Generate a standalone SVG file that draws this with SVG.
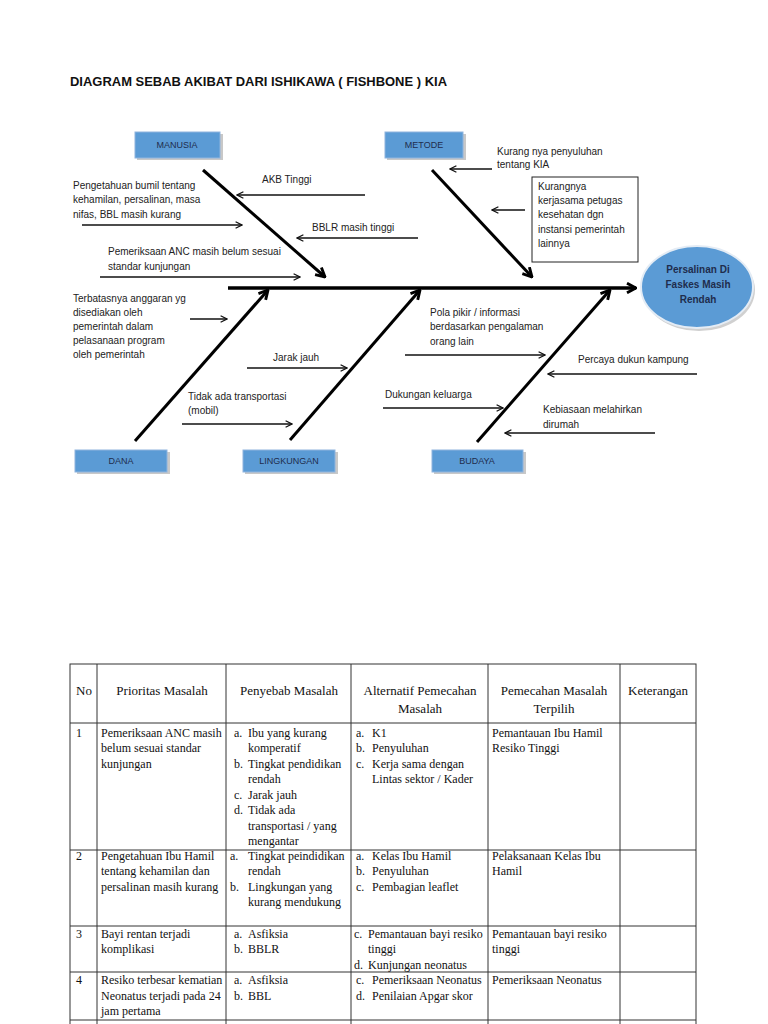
<svg xmlns="http://www.w3.org/2000/svg" width="768" height="1024" viewBox="0 0 768 1024">
<style>
.t{font-family:"Liberation Sans",Arial,sans-serif;font-size:10px;fill:#222}
.bx{fill:#5B9BD5;stroke:#8FB4DE;stroke-width:1}
.sh{fill:#C8C8C8}
.bl{font-family:"Liberation Sans",Arial,sans-serif;font-size:9px;fill:#1F2D4D;text-anchor:middle}
.thin{stroke:#111;stroke-width:1.3;fill:none;marker-end:url(#ah)}
.bone{stroke:#000;stroke-width:3;fill:none;marker-end:url(#bh)}
.tb{stroke:#333;stroke-width:1;fill:none}
.h{font-family:"Liberation Serif","Times New Roman",serif;font-size:13px;fill:#111}
.c{font-family:"Liberation Serif","Times New Roman",serif;font-size:12px;fill:#111}
.m{text-anchor:middle}
</style>
<defs>
<marker id="ah" viewBox="0 0 10 10" refX="9" refY="5" markerWidth="8" markerHeight="8" markerUnits="userSpaceOnUse" orient="auto">
<path d="M1,1 L9,5 L1,9" fill="none" stroke="#111" stroke-width="1.6"/>
</marker>
<marker id="bh" viewBox="0 0 10 10" refX="9" refY="5" markerWidth="12" markerHeight="12" markerUnits="userSpaceOnUse" orient="auto">
<path d="M1.5,1 L9,5 L1.5,9" fill="none" stroke="#000" stroke-width="2.4"/>
</marker>
</defs>
<rect width="768" height="1024" fill="#fff"/>

<g id="title">
<text x="70" y="86" font-family="'Liberation Sans',Arial,sans-serif" font-size="13" font-weight="bold" fill="#111" textLength="377" lengthAdjust="spacingAndGlyphs">DIAGRAM SEBAB AKIBAT DARI ISHIKAWA ( FISHBONE ) KIA</text>
</g>

<g id="connectors">
<line x1="228" y1="288" x2="636" y2="288" stroke="#000" stroke-width="3.5" marker-end="url(#bh)"/>
<line class="bone" x1="203" y1="170" x2="325" y2="277"/>
<line class="bone" x1="432" y1="170" x2="532" y2="277"/>
<line class="bone" x1="135" y1="441" x2="268" y2="290"/>
<line class="bone" x1="290" y1="440" x2="420" y2="290"/>
<line class="bone" x1="477" y1="442" x2="610" y2="290"/>
<line class="thin" x1="365" y1="195" x2="237" y2="195"/>
<line class="thin" x1="82" y1="225" x2="242" y2="225"/>
<line class="thin" x1="418" y1="238" x2="297" y2="238"/>
<line class="thin" x1="100" y1="277" x2="300" y2="277"/>
<line class="thin" x1="492" y1="169" x2="450" y2="169"/>
<line class="thin" x1="525" y1="210" x2="492" y2="210"/>
<line class="thin" x1="190" y1="319" x2="227" y2="319"/>
<line class="thin" x1="247" y1="368" x2="347" y2="368"/>
<line class="thin" x1="182" y1="424" x2="292" y2="424"/>
<line class="thin" x1="405" y1="355" x2="545" y2="355"/>
<line class="thin" x1="697" y1="374" x2="548" y2="374"/>
<line class="thin" x1="383" y1="408" x2="503" y2="408"/>
<line class="thin" x1="655" y1="433" x2="505" y2="433"/>
</g>

<g id="manusia">
<rect class="sh" x="137" y="134" width="86" height="26"/>
<rect class="bx" x="135" y="132" width="85" height="26"/>
<text class="bl" x="177" y="148">MANUSIA</text>
</g>
<g id="metode">
<rect class="sh" x="387" y="134" width="79" height="26"/>
<rect class="bx" x="385" y="132" width="78" height="26"/>
<text class="bl" x="424" y="148">METODE</text>
</g>
<g id="dana">
<rect class="sh" x="77" y="452" width="93" height="22"/>
<rect class="bx" x="75" y="450" width="92" height="22"/>
<text class="bl" x="121" y="464">DANA</text>
</g>
<g id="lingkungan">
<rect class="sh" x="245" y="452" width="93" height="22"/>
<rect class="bx" x="243" y="450" width="92" height="22"/>
<text class="bl" x="289" y="464">LINGKUNGAN</text>
</g>
<g id="budaya">
<rect class="sh" x="434" y="452" width="92" height="22"/>
<rect class="bx" x="432" y="450" width="91" height="22"/>
<text class="bl" x="477" y="464">BUDAYA</text>
</g>

<g id="effect">
<ellipse cx="699" cy="290" rx="56" ry="41" fill="#D0D0D0"/>
<ellipse cx="697" cy="287" rx="56" ry="41" fill="#5B9BD5" stroke="#E4ECF5" stroke-width="2"/>
<g font-family="'Liberation Sans',Arial,sans-serif" font-size="10" font-weight="bold" fill="#1F2D4D" text-anchor="middle">
<text x="698" y="273">Persalinan Di</text>
<text x="698" y="288">Faskes Masih</text>
<text x="698" y="303">Rendah</text>
</g>
</g>

<g id="cause-akb"><text class="t" x="262" y="183">AKB Tinggi</text></g>
<g id="cause-pengetahuan">
<text class="t" x="73" y="189">Pengetahuan bumil tentang</text>
<text class="t" x="73" y="203">kehamilan, persalinan, masa</text>
<text class="t" x="73" y="218">nifas, BBL masih kurang</text>
</g>
<g id="cause-bblr"><text class="t" x="312" y="231">BBLR masih tinggi</text></g>
<g id="cause-anc">
<text class="t" x="108" y="255">Pemeriksaan ANC masih belum sesuai</text>
<text class="t" x="108" y="270">standar kunjungan</text>
</g>
<g id="cause-penyuluhan">
<text class="t" x="497" y="155">Kurang nya penyuluhan</text>
<text class="t" x="497" y="168">tentang KIA</text>
</g>
<g id="cause-kerjasama">
<rect x="532" y="177" width="106" height="85" fill="#fff" stroke="#222" stroke-width="1"/>
<text class="t" x="538" y="190">Kurangnya</text>
<text class="t" x="538" y="204">kerjasama petugas</text>
<text class="t" x="538" y="218">kesehatan dgn</text>
<text class="t" x="538" y="233">instansi pemerintah</text>
<text class="t" x="538" y="247">lainnya</text>
</g>
<g id="cause-anggaran">
<text class="t" x="73" y="302">Terbatasnya anggaran yg</text>
<text class="t" x="73" y="316">disediakan oleh</text>
<text class="t" x="73" y="330">pemerintah dalam</text>
<text class="t" x="73" y="344">pelasanaan program</text>
<text class="t" x="73" y="358">oleh pemerintah</text>
</g>
<g id="cause-jarak"><text class="t" x="273" y="361">Jarak jauh</text></g>
<g id="cause-transport">
<text class="t" x="188" y="400">Tidak ada transportasi</text>
<text class="t" x="188" y="414">(mobil)</text>
</g>
<g id="cause-polapikir">
<text class="t" x="430" y="316">Pola pikir / informasi</text>
<text class="t" x="430" y="330">berdasarkan pengalaman</text>
<text class="t" x="430" y="345">orang lain</text>
</g>
<g id="cause-dukun"><text class="t" x="578" y="363">Percaya dukun kampung</text></g>
<g id="cause-keluarga"><text class="t" x="385" y="398">Dukungan keluarga</text></g>
<g id="cause-kebiasaan">
<text class="t" x="543" y="413">Kebiasaan melahirkan</text>
<text class="t" x="543" y="428">dirumah</text>
</g>

<g id="table">
<rect class="tb" x="70" y="664" width="626" height="380"/>
<line class="tb" x1="97" y1="664" x2="97" y2="1024"/>
<line class="tb" x1="226" y1="664" x2="226" y2="1024"/>
<line class="tb" x1="351" y1="664" x2="351" y2="1024"/>
<line class="tb" x1="488" y1="664" x2="488" y2="1024"/>
<line class="tb" x1="620" y1="664" x2="620" y2="1024"/>
<line class="tb" x1="70" y1="723" x2="696" y2="723"/>
<line class="tb" x1="70" y1="850" x2="696" y2="850"/>
<line class="tb" x1="70" y1="926" x2="696" y2="926"/>
<line class="tb" x1="70" y1="972" x2="696" y2="972"/>
<line class="tb" x1="70" y1="1020" x2="696" y2="1020"/>

<text class="h" x="76" y="695">No</text>
<text class="h m" x="162" y="695">Prioritas Masalah</text>
<text class="h m" x="289" y="695">Penyebab Masalah</text>
<text class="h m" x="420" y="695">Alternatif Pemecahan</text>
<text class="h m" x="420" y="713">Masalah</text>
<text class="h m" x="554" y="695">Pemecahan Masalah</text>
<text class="h m" x="554" y="713">Terpilih</text>
<text class="h m" x="658" y="695">Keterangan</text>

<text class="c" x="76" y="737">1</text>
<text class="c" x="101" y="737">Pemeriksaan ANC masih</text>
<text class="c" x="101" y="752">belum sesuai standar</text>
<text class="c" x="101" y="768">kunjungan</text>
<text class="c" x="234" y="737">a.</text><text class="c" x="248" y="737">Ibu yang kurang</text>
<text class="c" x="248" y="752">komperatif</text>
<text class="c" x="234" y="768">b.</text><text class="c" x="248" y="768">Tingkat pendidikan</text>
<text class="c" x="248" y="783">rendah</text>
<text class="c" x="234" y="799">c.</text><text class="c" x="248" y="799">Jarak jauh</text>
<text class="c" x="234" y="814">d.</text><text class="c" x="248" y="814">Tidak ada</text>
<text class="c" x="248" y="830">transportasi / yang</text>
<text class="c" x="248" y="845">mengantar</text>
<text class="c" x="356" y="737">a.</text><text class="c" x="372" y="737">K1</text>
<text class="c" x="356" y="752">b.</text><text class="c" x="372" y="752">Penyuluhan</text>
<text class="c" x="356" y="768">c.</text><text class="c" x="372" y="768">Kerja sama dengan</text>
<text class="c" x="372" y="783">Lintas sektor / Kader</text>
<text class="c" x="492" y="737">Pemantauan Ibu Hamil</text>
<text class="c" x="492" y="752">Resiko Tinggi</text>

<text class="c" x="76" y="860">2</text>
<text class="c" x="101" y="860">Pengetahuan Ibu Hamil</text>
<text class="c" x="101" y="875">tentang kehamilan dan</text>
<text class="c" x="101" y="891">persalinan masih kurang</text>
<text class="c" x="230" y="860">a.</text><text class="c" x="248" y="860">Tingkat peindidikan</text>
<text class="c" x="248" y="875">rendah</text>
<text class="c" x="230" y="891">b.</text><text class="c" x="248" y="891">Lingkungan yang</text>
<text class="c" x="248" y="906">kurang mendukung</text>
<text class="c" x="356" y="860">a.</text><text class="c" x="372" y="860">Kelas Ibu Hamil</text>
<text class="c" x="356" y="875">b.</text><text class="c" x="372" y="875">Penyuluhan</text>
<text class="c" x="356" y="891">c.</text><text class="c" x="372" y="891">Pembagian leaflet</text>
<text class="c" x="492" y="860">Pelaksanaan Kelas Ibu</text>
<text class="c" x="492" y="875">Hamil</text>

<text class="c" x="76" y="938">3</text>
<text class="c" x="101" y="938">Bayi rentan terjadi</text>
<text class="c" x="101" y="953">komplikasi</text>
<text class="c" x="234" y="938">a.</text><text class="c" x="248" y="938">Asfiksia</text>
<text class="c" x="234" y="953">b.</text><text class="c" x="248" y="953">BBLR</text>
<text class="c" x="354" y="938">c.</text><text class="c" x="368" y="938">Pemantauan bayi resiko</text>
<text class="c" x="368" y="953">tinggi</text>
<text class="c" x="354" y="969">d.</text><text class="c" x="368" y="969">Kunjungan neonatus</text>
<text class="c" x="492" y="938">Pemantauan bayi resiko</text>
<text class="c" x="492" y="953">tinggi</text>

<text class="c" x="76" y="984">4</text>
<text class="c" x="101" y="984">Resiko terbesar kematian</text>
<text class="c" x="101" y="1000">Neonatus terjadi pada 24</text>
<text class="c" x="101" y="1015">jam pertama</text>
<text class="c" x="234" y="984">a.</text><text class="c" x="248" y="984">Asfiksia</text>
<text class="c" x="234" y="1000">b.</text><text class="c" x="248" y="1000">BBL</text>
<text class="c" x="356" y="984">c.</text><text class="c" x="372" y="984">Pemeriksaan Neonatus</text>
<text class="c" x="356" y="1000">d.</text><text class="c" x="372" y="1000">Penilaian Apgar skor</text>
<text class="c" x="492" y="984">Pemeriksaan Neonatus</text>
</g>
</svg>
